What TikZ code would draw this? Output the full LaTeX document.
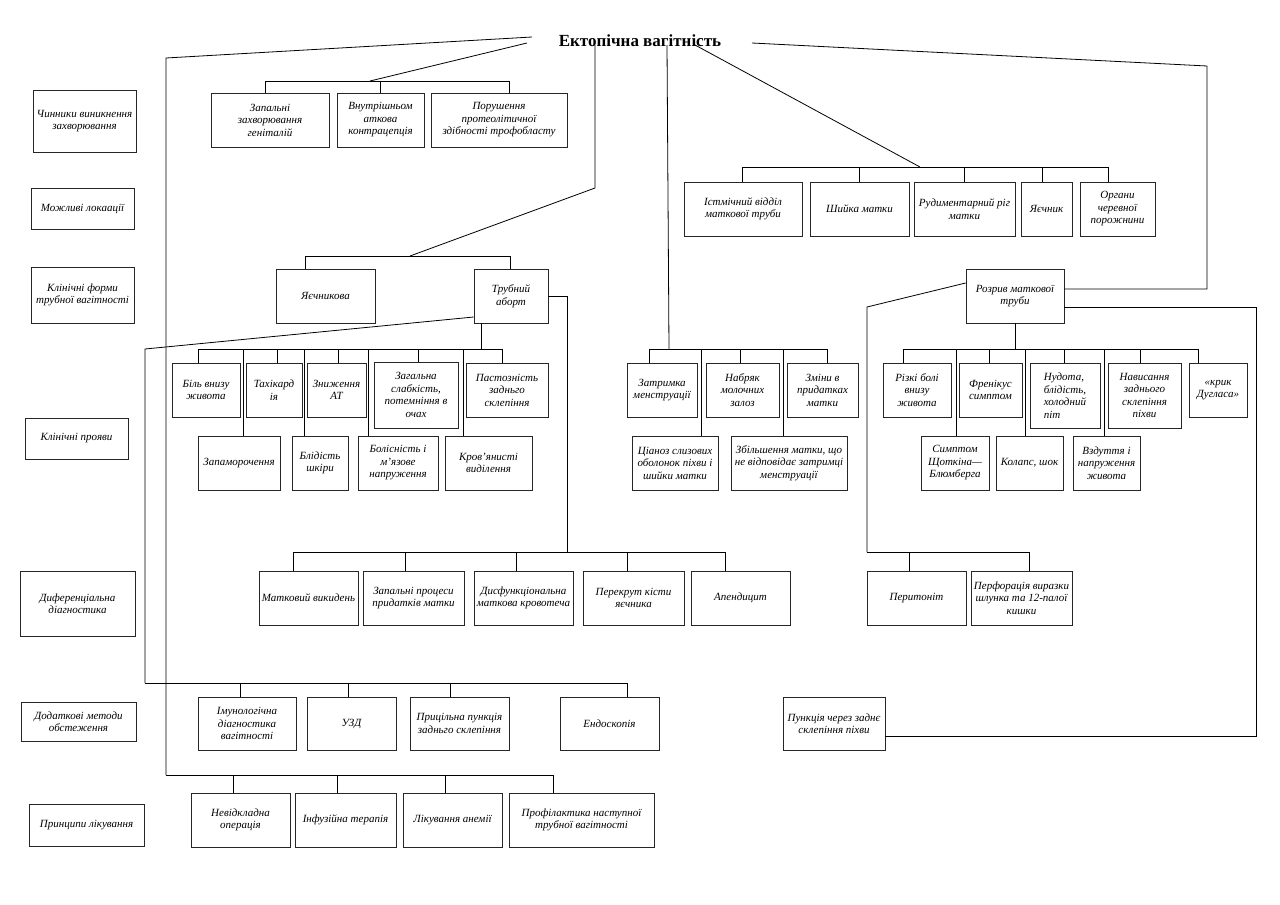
\documentclass[tikz,border=0pt]{standalone}
\usepackage{fontspec}
\setmainfont{Liberation Serif}
\usepackage{tikz}
\tikzstyle{box} = [rectangle, draw=black!85, fill=white, align=center, inner sep=1pt,
    minimum height=54pt, line width=0.7pt,
    font=\itshape\fontsize{11}{12.5}\selectfont]
\tikzstyle{line} = [draw, line width=0.8pt]

\begin{document}
\begin{tikzpicture}[x=1pt, y=-1pt]
    \useasboundingbox (0,0) rectangle (1280,905);
    % Title
    \node[font=\bfseries\fontsize{17}{20}\selectfont] (title) at (640,41) {Ектопічна вагітність};

    % Row labels
    \node[box, minimum width=103pt, minimum height=62pt] (lblcause) at (84.5,121) {Чинники виникнення\\захворювання};
    \node[box, minimum width=103pt, minimum height=41pt] (lblsite) at (82.5,208.5) {Можливі локаації};
    \node[box, minimum width=103pt, minimum height=56pt] (lblform) at (82.5,295) {Клінічні форми\\трубної вагітності};
    \node[box, minimum width=103pt, minimum height=41pt] (lblsign) at (76.5,438.5) {Клінічні прояви};
    \node[box, minimum width=115pt, minimum height=65pt] (lbldiff) at (77.5,603.5) {Диференціальна\\діагностика};
    \node[box, minimum width=115pt, minimum height=39pt] (lblexam) at (78.5,721.5) {Додаткові методи\\обстеження};
    \node[box, minimum width=115pt, minimum height=42pt] (lbltreat) at (86.5,825) {Принципи лікування};

    % Causes
    \node[box, minimum width=118pt] (inflam) at (270,120) {Запальні\\захворювання\\геніталій};
    \node[box, minimum width=87pt] (iud) at (380.5,120) {Внутрішньом\\аткова\\контрацепція};
    \node[box, minimum width=136pt] (trophob) at (499,120) {Порушення\\протеолітичної\\здібності трофобласту};

    % Sites
    \node[box, minimum width=118pt] (isthmus) at (743,209) {Істмічний відділ\\маткової труби};
    \node[box, minimum width=99pt] (cervix) at (859.5,209) {Шийка матки};
    \node[box, minimum width=101pt] (horn) at (964.5,209) {Рудиментарний ріг\\матки};
    \node[box, minimum width=51pt] (ovary) at (1046.5,209) {Яєчник};
    \node[box, minimum width=75pt] (abdomen) at (1117.5,209) {Органи\\черевної\\порожнини};

    % Clinical forms
    \node[box, minimum width=99pt] (ovarian) at (325.5,296) {Яєчникова};
    \node[box, minimum width=74pt] (abortion) at (511,296) {Трубний\\аборт};
    \node[box, minimum width=98pt] (rupture) at (1015,296) {Розрив маткової\\труби};

    % Signs of tubal abortion
    \node[box, minimum width=68pt] (apain) at (206,390) {Біль внизу\\живота};
    \node[box, minimum width=56pt] (tachy) at (274,390) {Тахікард\\ія};
    \node[box, minimum width=59pt] (lowbp) at (336.5,390) {Зниження\\АТ};
    \node[box, minimum width=84pt, minimum height=66pt] (weak) at (416,395) {Загальна\\слабкість,\\потемніння в\\очах};
    \node[box, minimum width=82pt] (pasty) at (507,390) {Пастозність\\задньго\\склепіння};
    \node[box, minimum width=82pt] (dizzy) at (239,463) {Запаморочення};
    \node[box, minimum width=56pt] (pale) at (320,463) {Блідість\\шкіри};
    \node[box, minimum width=80pt] (musc) at (398,463) {Болісність і\\м’язове\\напруження};
    \node[box, minimum width=87pt] (blood) at (488.5,463) {Кров’янисті\\виділення};

    % Common signs
    \node[box, minimum width=70pt] (delay) at (662,390) {Затримка\\менструації};
    \node[box, minimum width=73pt] (breast) at (742.5,390) {Набряк\\молочних\\залоз};
    \node[box, minimum width=71pt] (adnex) at (822.5,390) {Зміни в\\придатках\\матки};
    \node[box, minimum width=86pt] (cyan) at (675,463) {Ціаноз слизових\\оболонок піхви і\\шийки матки};
    \node[box, minimum width=116pt] (uterus) at (789,463) {Збільшення матки, що\\не відповідає затримці\\менструації};

    % Signs of tubal rupture
    \node[box, minimum width=68pt] (rpain) at (917,390) {Різкі болі\\внизу\\живота};
    \node[box, minimum width=63pt] (phren) at (990.5,390) {Френікус\\симптом};
    \node[box, minimum width=70pt, minimum height=65pt, align=left] (nausea) at (1065,395.5) {Нудота,\\блідість,\\холодний\\піт};
    \node[box, minimum width=73pt, minimum height=65pt] (vault) at (1144.5,395.5) {Нависання\\заднього\\склепіння\\піхви};
    \node[box, minimum width=58pt] (douglas) at (1218,390) {«крик\\Дугласа»};
    \node[box, minimum width=68pt] (blumb) at (955,463) {Симптом\\Щоткіна—\\Блюмберга};
    \node[box, minimum width=67pt] (shock) at (1029.5,463) {Колапс, шок};
    \node[box, minimum width=67pt] (bloat) at (1106.5,463) {Вздуття і\\напруження\\живота};

    % Differential diagnosis
    \node[box, minimum width=99pt] (miscar) at (308.5,598) {Матковий викидень};
    \node[box, minimum width=101pt] (adnexit) at (413.5,598) {Запальні процеси\\придатків матки};
    \node[box, minimum width=99pt] (dysfunc) at (523.5,598) {Дисфункціональна\\маткова кровотеча};
    \node[box, minimum width=101pt] (torsion) at (633.5,598) {Перекрут кісти\\яєчника};
    \node[box, minimum width=99pt] (append) at (740.5,598) {Апендицит};
    \node[box, minimum width=99pt] (periton) at (916.5,598) {Перитоніт};
    \node[box, minimum width=101pt] (ulcer) at (1021.5,598) {Перфорація виразки\\шлунка та 12-палої\\кишки};

    % Examination
    \node[box, minimum width=98pt, minimum height=53pt] (immuno) at (247,723.5) {Імунологічна\\діагностика\\вагітності};
    \node[box, minimum width=89pt, minimum height=53pt] (usd) at (351.5,723.5) {УЗД};
    \node[box, minimum width=99pt, minimum height=53pt] (punct) at (459.5,723.5) {Прицільна пункція\\задньго склепіння};
    \node[box, minimum width=99pt, minimum height=53pt] (endo) at (609.5,723.5) {Ендоскопія};
    \node[box, minimum width=102pt, minimum height=53pt] (vpunct) at (834,723.5) {Пункція через заднє\\склепіння піхви};

    % Treatment
    \node[box, minimum width=99pt] (surgery) at (240.5,820) {Невідкладна\\операція};
    \node[box, minimum width=101pt] (infus) at (345.5,820) {Інфузійна терапія};
    \node[box, minimum width=99pt] (anemia) at (452.5,820) {Лікування анемії};
    \node[box, minimum width=145pt] (prevent) at (581.5,820) {Профілактика наступної\\трубної вагітності};

    % Junctions
    \coordinate (tA) at (532,37);
    \coordinate (tB) at (527,43);
    \coordinate (tC) at (595,45);
    \coordinate (tD) at (667,45);
    \coordinate (tE) at (695,45);
    \coordinate (tF) at (752,43);
    \coordinate (causebus) at (370,81);
    \coordinate (sitebus) at (920,167);
    \coordinate (formbus) at (410,256);
    \coordinate (signbus) at (481,349);
    \coordinate (midbus) at (669,349);
    \coordinate (rupbus) at (1015,349);
    \coordinate (diffbus) at (567,552);
    \coordinate (diffbusb) at (867,552);
    \coordinate (exambus) at (145,683);
    \coordinate (treatbus) at (166,775);

    % Edges
    \path[line] (tB) -- (causebus);
    \foreach \n/\s in {inflam/-5, iud/0, trophob/10}
        \path[line] (causebus) -| ([xshift=\s pt]\n.north);
    \path[line] (tE) -- (sitebus);
    \foreach \n/\s in {isthmus/-1, cervix/0, horn/0, ovary/-4.5, abdomen/-9.5}
        \path[line] (sitebus) -| ([xshift=\s pt]\n.north);
    \path[line] (tC) -- (595,188) -- (formbus);
    \foreach \n/\s in {ovarian/-20.5, abortion/-1}
        \path[line] (formbus) -| ([xshift=\s pt]\n.north);
    \path[line] (tF) -- (1207,66) |- ([yshift=7pt]rupture.east);

    \path[line] (signbus |- abortion.south) -- (signbus);
    \foreach \n/\s in {apain/-8, tachy/3, lowbp/1.5, weak/2, pasty/-5,
                       dizzy/4, pale/-16, musc/-30, blood/-25.5}
        \path[line] (signbus) -| ([xshift=\s pt]\n.north);
    \path[line] (tD) -- (midbus);
    \foreach \n/\s in {delay/-13, breast/-2.5, adnex/4.5, cyan/26, uterus/-6}
        \path[line] (midbus) -| ([xshift=\s pt]\n.north);
    \path[line] (rupbus |- rupture.south) -- (rupbus);
    \foreach \n/\s in {rpain/-14, phren/-1.5, nausea/-1, vault/-4.5, douglas/-20,
                       blumb/1, shock/-4.5, bloat/-2.5}
        \path[line] (rupbus) -| ([xshift=\s pt]\n.north);

    \path[line] (abortion.east) -| (diffbus);
    \foreach \n/\s in {miscar/-15.5, adnexit/-8.5, dysfunc/-7.5, torsion/-6.5, append/-15.5}
        \path[line] (diffbus) -| ([xshift=\s pt]\n.north);
    \path[line] ([yshift=13pt]rupture.west) -- (867,307) -- (diffbusb);
    \foreach \n/\s in {periton/-7.5, ulcer/7.5}
        \path[line] (diffbusb) -| ([xshift=\s pt]\n.north);

    \path[line] ([yshift=-21pt]abortion.west) -- (145,349) -- (exambus);
    \foreach \n/\s in {immuno/-7, usd/-3.5, punct/-9.5, endo/17.5}
        \path[line] (exambus) -| ([xshift=\s pt]\n.north);
    \path[line] ([yshift=-11pt]rupture.east) -| (1256,736) -- ([yshift=-12.5pt]vpunct.east);

    \path[line] (tA) -- (166,58) -- (treatbus);
    \foreach \n/\s in {surgery/-7.5, infus/-8.5, anemia/-7.5, prevent/-28.5}
        \path[line] (treatbus) -| ([xshift=\s pt]\n.north);
\end{tikzpicture}
\end{document}
